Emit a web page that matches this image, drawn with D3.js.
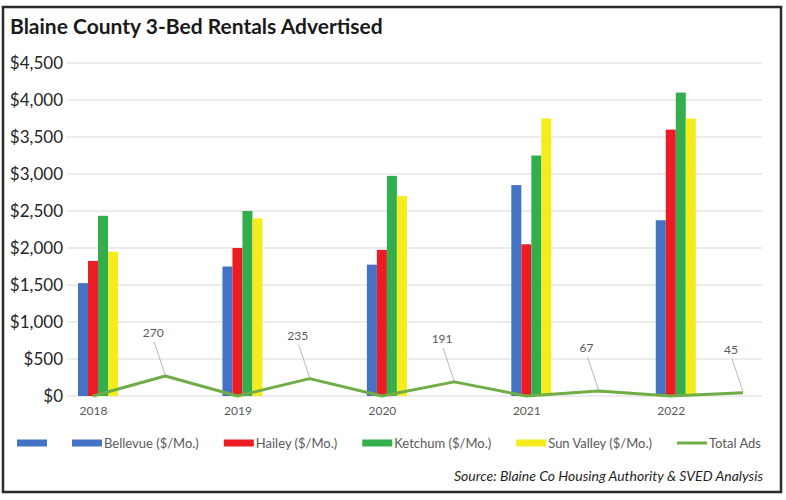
<!DOCTYPE html>
<html>
<head>
<meta charset="utf-8">
<script src="https://cdn.jsdelivr.net/npm/d3@7/dist/d3.min.js"></script>
<style>
  html, body { margin: 0; padding: 0; background: #fff; }
  svg { display: block; font-family: Lato, "Open Sans", sans-serif; }
</style>
</head>
<body>
<div id="chart"></div>
<script>
// Category slots: a year, then an unlabelled gap slot where Total Ads peaks.
var categories = ['2018', '', '2019', '', '2020', '', '2021', '', '2022', ''];
var years = ['2018', '2019', '2020', '2021', '2022'];

// Rent series ($/Mo.), one value per year. The first series is the unnamed
// blank one that Excel left in the legend.
var seriesNames = ['', 'Bellevue ($/Mo.)', 'Hailey ($/Mo.)', 'Ketchum ($/Mo.)', 'Sun Valley ($/Mo.)'];
var blankVals = [0, 0, 0, 0, 0];
var bellevueVals = [1525, 1750, 1775, 2850, 2375];
var haileyVals = [1825, 2000, 1975, 2050, 3600];
var ketchumVals = [2435, 2500, 2975, 3250, 4100];
var sunValleyVals = [1950, 2400, 2700, 3750, 3750];

// Total ads, one value per category slot.
var totalAdsName = 'Total Ads';
var totalAds = [0, 270, 0, 235, 0, 191, 0, 67, 0, 45];

var yTicks = [0, 500, 1000, 1500, 2000, 2500, 3000, 3500, 4000, 4500];

var titleText = 'Blaine County 3-Bed Rentals Advertised';
var sourceText = 'Source: Blaine Co Housing Authority & SVED Analysis';

var colors = ['#4472c4', '#4472c4', '#ec1c24', '#33ae4c', '#f4ec1c'];
var lineColor = '#70ad47';

(function() {
  var width = 786, height = 500;
  var svg = d3.select('#chart').append('svg')
      .attr('width', width)
      .attr('height', height);

  // frame
  svg.append('rect')
      .attr('x', 3).attr('y', 7)
      .attr('width', 778).attr('height', 485)
      .attr('fill', '#fff')
      .attr('stroke', '#2b2b2b')
      .attr('stroke-width', 2.5);

  svg.append('text')
      .attr('x', 10).attr('y', 34)
      .attr('font-size', 21)
      .attr('font-weight', 'bold')
      .attr('fill', '#1a1a1a')
      .text(titleText);

  var y = d3.scaleLinear().domain([0, 4500]).range([396, 63]);
  var x = d3.scalePoint().domain(d3.range(categories.length)).range([93, 743]);
  var inner = d3.scaleBand().domain(d3.range(seriesNames.length)).range([-25, 25]);

  // gridlines
  svg.append('g').selectAll('line').data(yTicks)
    .enter().append('line')
      .attr('x1', 67).attr('x2', 762)
      .attr('y1', function(d) { return y(d); })
      .attr('y2', function(d) { return y(d); })
      .attr('stroke', '#d9d9d9')
      .attr('stroke-width', 1);

  // y axis labels (no axis line)
  var yAxis = d3.axisLeft(y).tickValues(yTicks).tickSize(0).tickPadding(0)
      .tickFormat(function(d) { return '$' + d3.format(',')(d); });
  var yg = svg.append('g').attr('transform', 'translate(63,0)').call(yAxis);
  yg.select('.domain').remove();
  yg.selectAll('text')
      .attr('font-family', 'Lato, sans-serif')
      .attr('font-size', 17)
      .attr('fill', '#262626');

  // x axis labels
  var xAxis = d3.axisBottom(x).tickSize(0).tickPadding(0)
      .tickFormat(function(i) { return categories[i]; });
  var xg = svg.append('g').attr('transform', 'translate(0,406)').call(xAxis);
  xg.select('.domain').remove();
  xg.selectAll('text')
      .attr('font-family', 'Lato, sans-serif')
      .attr('font-size', 12)
      .attr('fill', '#595959');

  // bars
  var series = [blankVals, bellevueVals, haileyVals, ketchumVals, sunValleyVals];
  series.forEach(function(vals, s) {
    svg.append('g').selectAll('rect').data(vals)
      .enter().append('rect')
        .attr('x', function(d, i) { return x(categories.indexOf(years[i])) + inner(s); })
        .attr('y', function(d) { return y(d); })
        .attr('width', inner.bandwidth())
        .attr('height', function(d) { return y(0) - y(d); })
        .attr('fill', colors[s]);
  });

  // total ads line
  var line = d3.line()
      .x(function(d, i) { return x(i); })
      .y(function(d) { return y(d); });
  svg.append('path')
      .datum(totalAds)
      .attr('d', line)
      .attr('fill', 'none')
      .attr('stroke', lineColor)
      .attr('stroke-width', 3)
      .attr('stroke-linejoin', 'round');

  // data labels with leader lines
  var labelled = totalAds.map(function(d, i) { return { v: d, i: i }; })
      .filter(function(d) { return d.v > 0; });
  var lab = svg.append('g').selectAll('g').data(labelled).enter().append('g');
  lab.append('line')
      .attr('x1', function(d) { return x(d.i) - 11; })
      .attr('y1', function(d) { return y(d.v) - 34; })
      .attr('x2', function(d) { return x(d.i); })
      .attr('y2', function(d) { return y(d.v) - 1; })
      .attr('stroke', '#a6a6a6')
      .attr('stroke-width', 0.8);
  lab.append('text')
      .attr('x', function(d) { return x(d.i) - 12; })
      .attr('y', function(d) { return y(d.v) - 39; })
      .attr('text-anchor', 'middle')
      .attr('font-size', 12)
      .attr('fill', '#595959')
      .text(function(d) { return d.v; });

  // legend: swatch + text, spread across the frame
  var items = seriesNames.map(function(n, i) { return { name: n, color: colors[i], kind: 'rect' }; });
  items.push({ name: totalAdsName, color: lineColor, kind: 'line' });
  var legend = svg.append('g');
  var legendY = 443, left = 17, right = 761, sw = 30;
  var groups = legend.selectAll('g').data(items).enter().append('g');
  groups.append('text')
      .attr('x', sw + 2).attr('y', legendY + 4.5)
      .attr('font-size', 13)
      .attr('fill', '#595959')
      .text(function(d) { return d.name; });
  var widths = [];
  groups.each(function(d) {
    var t = d3.select(this).select('text').node();
    widths.push(sw + (d.name ? 2 + t.getComputedTextLength() : 0));
  });
  var gap = (right - left - d3.sum(widths)) / (items.length - 1);
  var pos = left;
  groups.attr('transform', function(d, i) {
    var p = pos;
    pos += widths[i] + gap;
    return 'translate(' + p + ',0)';
  });
  groups.filter(function(d) { return d.kind === 'rect'; }).append('rect')
      .attr('x', 0).attr('y', legendY - 3.5)
      .attr('width', sw).attr('height', 7)
      .attr('fill', function(d) { return d.color; });
  groups.filter(function(d) { return d.kind === 'line'; }).append('line')
      .attr('x1', 0).attr('x2', sw)
      .attr('y1', legendY).attr('y2', legendY)
      .attr('stroke', function(d) { return d.color; })
      .attr('stroke-width', 3);

  svg.append('text')
      .attr('x', 763).attr('y', 481)
      .attr('text-anchor', 'end')
      .attr('font-size', 14)
      .attr('font-style', 'italic')
      .attr('fill', '#1f1f1f')
      .text(sourceText);
})();
</script>
</body>
</html>
